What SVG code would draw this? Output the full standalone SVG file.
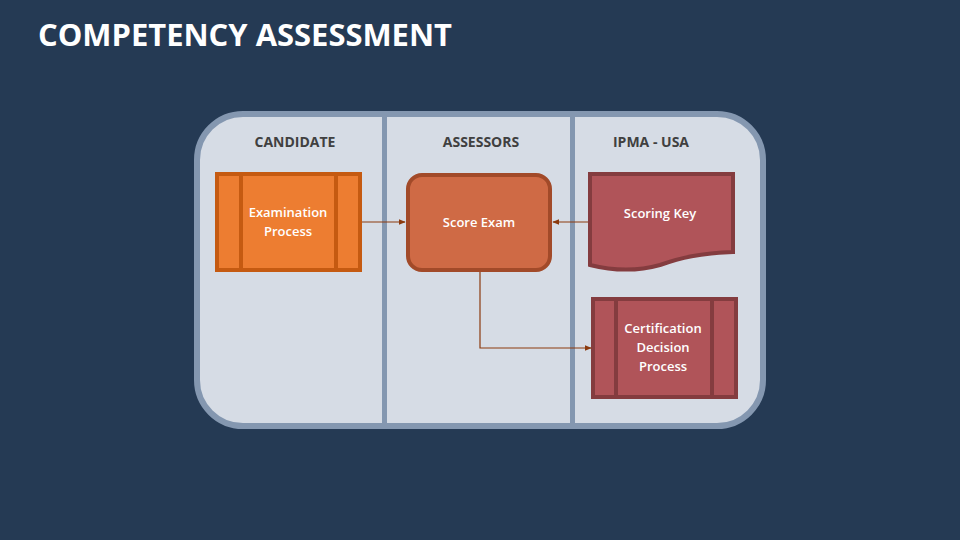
<svg xmlns="http://www.w3.org/2000/svg" width="960" height="540" viewBox="0 0 960 540">
<defs>
<style>
text{font-family:"Open Sans","Liberation Sans",sans-serif;}
.hd{font-size:14px;font-weight:bold;fill:#404040;text-anchor:middle;}
.lb{font-size:13px;fill:#fff;text-anchor:middle;font-weight:600;}
.org{fill:#ed7d31;stroke:#c55a11;stroke-width:4;}
.red{fill:#b05459;stroke:#843c3f;stroke-width:4;}
.cn{fill:none;stroke:#8b3a0e;stroke-width:1.2;marker-end:url(#ar);}
</style>
<marker id="ar" viewBox="0 0 10 10" refX="9" refY="5" markerWidth="6" markerHeight="6" orient="auto"><path d="M0,1 L10,5 L0,9 z" fill="#8b3a0e"/></marker>
</defs>
<rect width="960" height="540" fill="#253a54"/>
<text x="38" y="46" font-size="30" font-weight="bold" fill="#fff" textLength="414" lengthAdjust="spacingAndGlyphs">COMPETENCY ASSESSMENT</text>
<g id="pool">
<rect x="197" y="114" width="566" height="312" rx="46" fill="#d6dce5" stroke="#8497b0" stroke-width="6"/>
<rect x="382" y="114" width="5" height="312" fill="#8497b0"/>
<rect x="570" y="114" width="5" height="312" fill="#8497b0"/>
<text class="hd" x="295" y="147">CANDIDATE</text>
<text class="hd" x="481" y="147">ASSESSORS</text>
<text class="hd" x="651" y="147">IPMA - USA</text>
</g>
<g id="exam">
<rect class="org" x="217" y="174" width="143" height="96"/>
<path d="M241,174V270M336,174V270" stroke="#c55a11" stroke-width="4"/>
<text class="lb" x="288" y="217">Examination</text>
<text class="lb" x="288" y="236">Process</text>
</g>
<g id="score">
<rect x="408" y="175" width="142" height="95" rx="14" fill="#cf6a45" stroke="#a24a29" stroke-width="4"/>
<text class="lb" x="479" y="227">Score Exam</text>
</g>
<g id="key">
<path class="red" d="M590,174H733V252C700,253 680,258 660,265C635,272 610,270 590,265Z"/>
<text class="lb" x="660" y="218">Scoring Key</text>
</g>
<g id="cert">
<rect class="red" x="593" y="299" width="143" height="98"/>
<path d="M616,299V397M712,299V397" stroke="#843c3f" stroke-width="4"/>
<text class="lb" x="663" y="333">Certification</text>
<text class="lb" x="663" y="352">Decision</text>
<text class="lb" x="663" y="371">Process</text>
</g>
<g id="connectors">
<path class="cn" d="M362,222H405"/>
<path class="cn" d="M588,222H553"/>
<path class="cn" d="M480,272V348H591"/>
</g>
</svg>
